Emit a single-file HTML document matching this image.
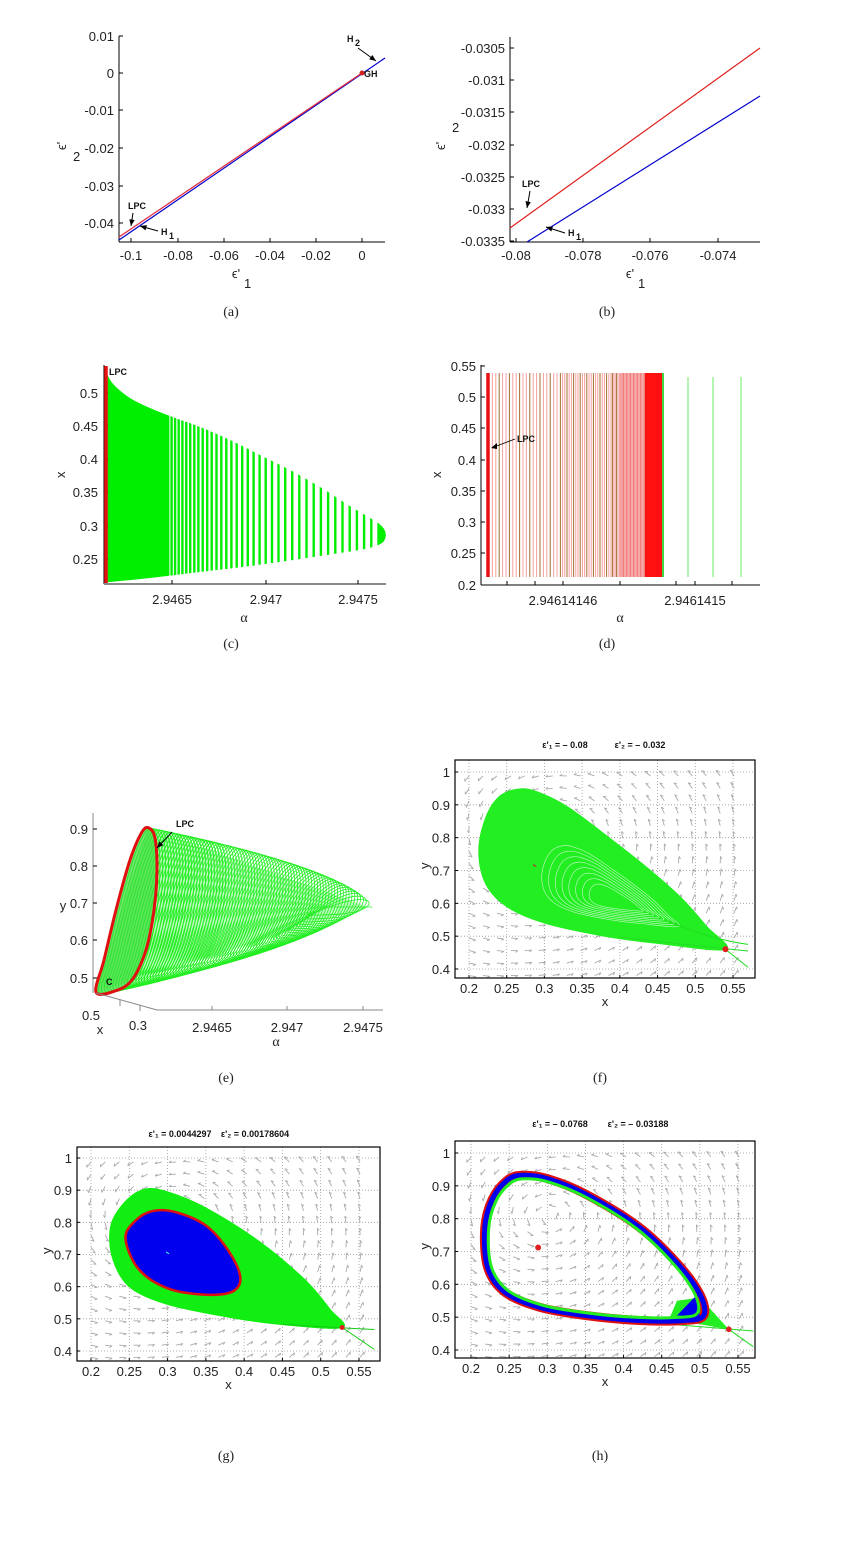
<!DOCTYPE html>
<html><head><meta charset="utf-8">
<style>
html,body{margin:0;padding:0;background:#fff;}
svg{display:block;font-family:"Liberation Sans",sans-serif;}
.t{font-size:13px;fill:#222;}
.s{font-size:9px;fill:#111;font-weight:bold;}
.cap{font-family:"Liberation Serif",serif;font-size:14px;fill:#222;}
</style></head><body>
<svg id="sv" width="868" height="1556" viewBox="0 0 868 1556" xmlns="http://www.w3.org/2000/svg">
<rect width="868" height="1556" fill="#fff"/>
<g id="g"></g>
</svg>
<script>
var out=[];
function A(s){out.push(s);}
function txt(x,y,s,cls,anc){A('<text x="'+x+'" y="'+y+'" class="'+(cls||'t')+'" text-anchor="'+(anc||'middle')+'">'+s+'</text>');}
function line(x1,y1,x2,y2,c,w,extra){A('<line x1="'+x1+'" y1="'+y1+'" x2="'+x2+'" y2="'+y2+'" stroke="'+c+'" stroke-width="'+(w||1)+'" '+(extra||'')+'/>');}
function arrow(x1,y1,x2,y2){line(x1,y1,x2,y2,'#000',1);var a=Math.atan2(y2-y1,x2-x1),L=7;
A('<polygon points="'+x2+','+y2+' '+(x2-L*Math.cos(a-0.4))+','+(y2-L*Math.sin(a-0.4))+' '+(x2-L*Math.cos(a+0.4))+','+(y2-L*Math.sin(a+0.4))+'" fill="#000"/>');}
function smooth(pts,closed){var p=pts.slice();var n=p.length;var d='M'+p[0][0].toFixed(1)+','+p[0][1].toFixed(1);
var m=closed?n:n-1;for(var i=0;i<m;i++){var p0=p[(i-1+n)%n],p1=p[i],p2=p[(i+1)%n],p3=p[(i+2)%n];
if(!closed){if(i==0)p0=p1;if(i+2>=n)p3=p2;}
var c1=[p1[0]+(p2[0]-p0[0])/6,p1[1]+(p2[1]-p0[1])/6],c2=[p2[0]-(p3[0]-p1[0])/6,p2[1]-(p3[1]-p1[1])/6];
d+=' C'+c1[0].toFixed(1)+','+c1[1].toFixed(1)+' '+c2[0].toFixed(1)+','+c2[1].toFixed(1)+' '+p2[0].toFixed(1)+','+p2[1].toFixed(1);}
if(closed)d+='Z';return d;}

// ---------- (a)
line(119,36,119,242,'#000');line(119,242,385,242,'#000');
[[36,'0.01'],[73,'0'],[110,'-0.01'],[148,'-0.02'],[186,'-0.03'],[223,'-0.04']].forEach(function(t){line(119,t[0],123,t[0],'#000');txt(114,t[0]+5,t[1],'t','end');});
[[131,'-0.1'],[178,'-0.08'],[224,'-0.06'],[270,'-0.04'],[316,'-0.02'],[362,'0']].forEach(function(t){line(t[0],242,t[0],238,'#000');txt(t[0],260,t[1]);});
line(119,240,385,58,'#0000cc',1.2);
line(119,237,362,73,'#e03040',1.3);
A('<circle cx="362" cy="73" r="2.5" fill="#d02020"/>');
txt(364,77,'GH','s','start');
txt(347,42,'H','s','start');txt(355,46,'2','s','start');arrow(358,48,376,61);
txt(128,209,'LPC','s','start');arrow(133,213,131,226);
txt(161,235,'H','s','start');txt(169,239,'1','s','start');arrow(158,231,140,226);
txt(236,278,"ϵ'",'t');txt(244,288,'1','t','start');
A('<text x="66" y="150" class="t" transform="rotate(-90 66 150)">ϵ\'</text>');txt(73,161,'2','t','start');
txt(231,316,'(a)','cap');

// ---------- (b)
line(510,37,510,242,'#000');line(510,242,760,242,'#000');
[[48,'-0.0305'],[80,'-0.031'],[112,'-0.0315'],[145,'-0.032'],[177,'-0.0325'],[209,'-0.033'],[241,'-0.0335']].forEach(function(t){line(510,t[0],514,t[0],'#000');txt(505,t[0]+5,t[1],'t','end');});
[[516,'-0.08'],[583,'-0.078'],[650,'-0.076'],[718,'-0.074']].forEach(function(t){line(t[0],242,t[0],238,'#000');txt(t[0],260,t[1]);});
line(510,228,760,48,'#e02020',1.2);
line(527,242,760,96,'#0000cc',1.2);
txt(522,187,'LPC','s','start');arrow(530,191,527,208);
txt(568,236,'H','s','start');txt(576,240,'1','s','start');arrow(565,233,546,227);
txt(630,278,"ϵ'",'t');txt(638,288,'1','t','start');
A('<text x="445" y="150" class="t" transform="rotate(-90 445 150)">ϵ\'</text>');txt(452,132,'2','t','start');
txt(607,316,'(b)','cap');

// ---------- (c)
(function(){
var topP=[[105,366],[108,376],[115,386],[130,398],[150,408],[170,416],[200,427],[230,440],[260,455],[290,470],[320,487],[345,503],[365,515],[378,523],[384,529],[386,535]];
var botP=[[386,535],[384,541],[378,545],[365,549],[340,553],[300,559],[250,566],[200,572],[150,578],[110,582],[105,583]];
var d=smooth(topP,false)+' L'+smooth(botP,false).slice(1)+' Z';
A('<clipPath id="cc"><path d="'+d+'"/></clipPath>');
A('<rect x="105" y="360" width="62" height="230" fill="#00ee00" clip-path="url(#cc)"/>');
var x=167,dx=3.4;
while(x<378){A('<rect x="'+x.toFixed(1)+'" y="360" width="2.4" height="230" fill="#00ee00" clip-path="url(#cc)"/>');x+=dx;dx*=1.03;if(dx>7.2)dx=7.2;}
A('<rect x="378" y="360" width="9" height="230" fill="#00ee00" clip-path="url(#cc)"/>');
})();
line(104,365,104,584,'#000');line(104,584,386,584,'#888',2);
[[393,'0.5'],[426,'0.45'],[459,'0.4'],[492,'0.35'],[526,'0.3'],[559,'0.25']].forEach(function(t){line(104,t[0],108,t[0],'#000');txt(98,t[0]+5,t[1],'t','end');});
[[172,'2.9465'],[266,'2.947'],[358,'2.9475']].forEach(function(t){line(t[0],584,t[0],580,'#000');txt(t[0],604,t[1]);});
line(106,366,106,583,'#e81010',3.5);
txt(109,375,'LPC','s','start');
A('<text x="65" y="478" class="t" transform="rotate(-90 65 478)">x</text>');
txt(244,622,'α','cap');
txt(231,648,'(c)','cap');

// ---------- (d)
(function(){
var x=489,dx=3.4,i=0;
while(x<645){var c=(i%3==0)?'#a07030':'#f4a0a0';if(x>620)c='#f07070';line(x.toFixed(1),373,x.toFixed(1),577,c,1);x+=dx;i++;if(x>560)dx=2.2;if(x>610)dx=1.4;}
A('<rect x="645" y="373" width="17" height="204" fill="#ff1010"/>');
line(663,373,663,577,'#00cc00',1.5);
[688,713,741].forEach(function(xx){line(xx,377,xx,577,'#66ee66',1);});
line(488,373,488,577,'#e81010',3.5);
})();
line(481,365,481,585,'#000');line(481,585,760,585,'#000');
[[366,'0.55'],[397,'0.5'],[428,'0.45'],[460,'0.4'],[491,'0.35'],[522,'0.3'],[553,'0.25'],[585,'0.2']].forEach(function(t){line(481,t[0],485,t[0],'#000');txt(476,t[0]+5,t[1],'t','end');});
[[507,''],[535,''],[563,'2.94614146'],[620,''],[676,''],[695,'2.9461415'],[732,'']].forEach(function(t){line(t[0],585,t[0],581,'#000');if(t[1])txt(t[0],605,t[1]);});
txt(517,442,'LPC','s','start');
line(515,439,494,447,'#000',0.8);A('<polygon points="491,448 497,443 497,449" fill="#000"/>');
A('<text x="441" y="478" class="t" transform="rotate(-90 441 478)">x</text>');
txt(620,622,'α','cap');
txt(607,648,'(d)','cap');

// ---------- (e)
(function(){
var red=[[96,992],[104,960],[116,910],[130,860],[142,832],[149,828],[155,838],[157,870],[154,910],[146,950],[132,980],[115,991]];
A('<path d="M96,992 L148,828 L368,907 Z" fill="#22ee22" opacity="0.3"/>');
for(var k=0;k<=75;k++){var t=k/75;
var pts=red.map(function(p){var s=Math.pow(1-t,0.55);return [p[0]+t*215, 907+(p[1]-907)*s];});
A('<path d="'+smooth(pts,true)+'" fill="none" stroke="#22ee22" stroke-width="'+(k<25?1:0.8)+'"/>');}
A('<path d="'+smooth(red,true)+'" fill="#33dd33" fill-opacity="0.7" stroke="#e01010" stroke-width="3"/>');
})();
line(93,813,93,993,'#888');line(96,993,157,1010,'#888');line(157,1010,383,1010,'#888');
[[829,'0.9'],[866,'0.8'],[903,'0.7'],[940,'0.6'],[978,'0.5']].forEach(function(t){line(93,t[0],97,t[0],'#000');txt(88,t[0]+5,t[1],'t','end');});
[[212,'2.9465'],[287,'2.947'],[363,'2.9475']].forEach(function(t){line(t[0],1010,t[0],1006,'#888');txt(t[0],1032,t[1]);});
line(120,1000,120,1006,'#888');line(140,1005,140,1011,'#888');
txt(91,1020,'0.5');txt(138,1030,'0.3');txt(100,1034,'x');
txt(106,985,'C','s','start');
txt(63,910,'y');
txt(276,1046,'α','cap');
txt(176,827,'LPC','s','start');arrow(172,832,157,848);
txt(226,1082,'(e)','cap');

// ---------- phase portraits
function portrait(P){
var X=function(x){return P.x0+(x-0.2)/0.35*(P.x1-P.x0);},Y=function(y){return P.y0+(1-y)/0.6*(P.y1-P.y0);};
A('<rect x="'+P.bl+'" y="'+P.bt+'" width="'+(P.br-P.bl)+'" height="'+(P.bb-P.bt)+'" fill="#fff"/>');
for(var i=0;i<8;i++){var xx=X(0.2+i*0.05);line(xx,P.bt,xx,P.bb,'#999',0.8,'stroke-dasharray="1,2"');txt(xx,P.bb+15,['0.2','0.25','0.3','0.35','0.4','0.45','0.5','0.55'][i]);line(xx,P.bb,xx,P.bb-3,'#000');}
for(var j=0;j<7;j++){var yy=Y(0.4+j*0.1);line(P.bl,yy,P.br,yy,'#999',0.8,'stroke-dasharray="1,2"');txt(P.bl-5,yy+5,['0.4','0.5','0.6','0.7','0.8','0.9','1'][j],'t','end');line(P.bl,yy,P.bl+3,yy,'#000');}
for(var i=0;i<20;i++)for(var j=0;j<17;j++){var x=0.2+i*0.0185,y=0.38+j*0.038;
var vx=-(y-0.71)-0.3*(x-0.29)+0.1,vy=(x-0.29)*1.6-0.2*(y-0.71);var n=Math.sqrt(vx*vx+vy*vy)||1;
var px=X(x),py=Y(y);var ex=px+vx/n*7,ey=py-vy/n*7;
line(px.toFixed(1),py.toFixed(1),ex.toFixed(1),ey.toFixed(1),'#aaa',0.9);
var a=Math.atan2(ey-py,ex-px);line(ex.toFixed(1),ey.toFixed(1),(ex-3*Math.cos(a-0.6)).toFixed(1),(ey-3*Math.sin(a-0.6)).toFixed(1),'#aaa',0.9);}
P.draw(X,Y);
A('<rect x="'+P.bl+'" y="'+P.bt+'" width="'+(P.br-P.bl)+'" height="'+(P.bb-P.bt)+'" fill="none" stroke="#000" stroke-width="1.2"/>');
txt((P.bl+P.br)/2,P.bb+28,'x');
A('<text x="'+(P.bl-30)+'" y="'+((P.bt+P.bb)/2+4)+'" class="t" transform="rotate(-90 '+(P.bl-30)+' '+((P.bt+P.bb)/2)+')">y</text>');
txt(P.t1x,P.ty,P.t1,'s');txt(P.t2x,P.ty,P.t2,'s');
}
function pl(X,Y,arr){return arr.map(function(p){return [X(p[0]),Y(p[1])];});}
var clipN=0;
function clipRect(P){clipN++;A('<clipPath id="cp'+clipN+'"><rect x="'+P.bl+'" y="'+P.bt+'" width="'+(P.br-P.bl)+'" height="'+(P.bb-P.bt)+'"/></clipPath>');return 'clip-path="url(#cp'+clipN+')"';}

// (f)
var Pf={x0:469,x1:733,y0:772,y1:969,bl:455,br:755,bt:760,bb:978,ty:748,t1x:565,t2x:640,t1:"ε'₁ = – 0.08",t2:"ε'₂ = – 0.032",
draw:function(X,Y){var cl=clipRect(Pf);
var o=pl(X,Y,[[0.54,0.46],[0.45,0.478],[0.38,0.50],[0.30,0.54],[0.25,0.59],[0.222,0.66],[0.213,0.76],[0.222,0.86],[0.24,0.925],[0.265,0.948],[0.29,0.94],[0.33,0.895],[0.38,0.81],[0.43,0.72],[0.48,0.62],[0.515,0.53]]);
A('<path d="'+smooth(o,true)+'" fill="#22ee22" stroke="#22ee22" stroke-width="1"/>');
var c=[X(0.40),Y(0.60)];
for(var k=1;k<9;k++){var s=0.2+k*0.08;A('<path d="'+smooth(o.map(function(p){return [c[0]+(p[0]-c[0])*s*0.6+ (p[0]-c[0])*0.05,c[1]+(p[1]-c[1])*s*0.6];}),true)+'" fill="none" stroke="#c8f8c8" stroke-width="0.6"/>');}
A('<path d="M'+X(0.40)+','+Y(0.497)+' Q'+X(0.5)+','+Y(0.47)+' '+X(0.57)+','+Y(0.455)+'" fill="none" stroke="#22dd22" '+cl+'/>');
A('<path d="M'+X(0.46)+','+Y(0.55)+' Q'+X(0.52)+','+Y(0.49)+' '+X(0.57)+','+Y(0.475)+'" fill="none" stroke="#22dd22" '+cl+'/>');
line(X(0.54),Y(0.46),X(0.57),Y(0.405),'#22dd22',1);
A('<circle cx="'+X(0.54)+'" cy="'+Y(0.46)+'" r="3" fill="#e02020"/>');
line(X(0.285),Y(0.718),X(0.289),Y(0.712),'#b03030',1.2);
}};
portrait(Pf);txt(600,1082,'(f)','cap');

// (g)
var Pg={x0:91,x1:359,y0:1158,y1:1351,bl:77,br:380,bt:1147,bb:1361,ty:1137,t1x:180,t2x:255,t1:"ε'₁ = 0.0044297",t2:"ε'₂ = 0.00178604",
draw:function(X,Y){var cl=clipRect(Pg);
var o=pl(X,Y,[[0.528,0.473],[0.45,0.482],[0.38,0.505],[0.30,0.545],[0.25,0.60],[0.228,0.69],[0.226,0.79],[0.245,0.865],[0.27,0.903],[0.30,0.895],[0.35,0.845],[0.42,0.74],[0.48,0.62],[0.512,0.53]]);
A('<path d="'+smooth(o,true)+'" fill="#11ee11" stroke="#11ee11"/>');
A('<path d="M'+X(0.45)+','+Y(0.483)+' Q'+X(0.52)+','+Y(0.472)+' '+X(0.57)+','+Y(0.467)+'" fill="none" stroke="#11cc11" '+cl+'/>');
line(X(0.528),Y(0.473),X(0.57),Y(0.405),'#11cc11',1);
var b=pl(X,Y,[[0.245,0.75],[0.258,0.805],[0.28,0.835],[0.31,0.832],[0.35,0.79],[0.38,0.71],[0.395,0.63],[0.385,0.585],[0.35,0.575],[0.30,0.595],[0.262,0.655]]);
A('<path d="'+smooth(b,true)+'" fill="#0000ee" stroke="#dd1111" stroke-width="2.5"/>');
line(X(0.298),Y(0.708),X(0.302),Y(0.702),'#44ffff',1);
A('<circle cx="'+X(0.528)+'" cy="'+Y(0.473)+'" r="2.5" fill="#e02020"/>');
}};
portrait(Pg);txt(226,1460,'(g)','cap');

// (h)
var Ph={x0:471,x1:738,y0:1153,y1:1350,bl:455,br:755,bt:1141,bb:1358,ty:1127,t1x:560,t2x:638,t1:"ε'₁ = – 0.0768",t2:"ε'₂ = – 0.03188",
draw:function(X,Y){var cl=clipRect(Ph);
A('<polygon points="'+X(0.46)+','+Y(0.495)+' '+X(0.538)+','+Y(0.463)+' '+X(0.50)+','+Y(0.56)+' '+X(0.47)+','+Y(0.55)+'" fill="#22ee22"/>');
line(X(0.40),Y(0.49),X(0.57),Y(0.458),'#22dd22',1,cl);
line(X(0.538),Y(0.463),X(0.57),Y(0.41),'#22dd22',1,cl);
var o=pl(X,Y,[[0.505,0.505],[0.48,0.49],[0.42,0.49],[0.35,0.505],[0.29,0.53],[0.245,0.575],[0.222,0.65],[0.218,0.77],[0.228,0.86],[0.248,0.918],[0.268,0.932],[0.30,0.922],[0.35,0.875],[0.42,0.775],[0.47,0.665],[0.5,0.57]]);
A('<path d="'+smooth(o,true)+'" fill="none" stroke="#dd1111" stroke-width="9"/>');
A('<path d="'+smooth(o,true)+'" fill="none" stroke="#0000ee" stroke-width="5"/>');
A('<polygon points="'+X(0.47)+','+Y(0.505)+' '+X(0.50)+','+Y(0.50)+' '+X(0.497)+','+Y(0.57)+'" fill="#0000ee"/>');
var c=[X(0.33),Y(0.70)];
var g=o.map(function(p){return [c[0]+(p[0]-c[0])*0.955,c[1]+(p[1]-c[1])*0.955];});
A('<path d="'+smooth(g,true)+'" fill="none" stroke="#22ee22" stroke-width="3"/>');
A('<circle cx="'+X(0.288)+'" cy="'+Y(0.712)+'" r="3" fill="#e02020"/>');
A('<circle cx="'+X(0.538)+'" cy="'+Y(0.463)+'" r="2.8" fill="#e02020"/>');
}};
portrait(Ph);txt(600,1460,'(h)','cap');

document.getElementById('g').innerHTML=out.join('');
</script>
</body></html>
